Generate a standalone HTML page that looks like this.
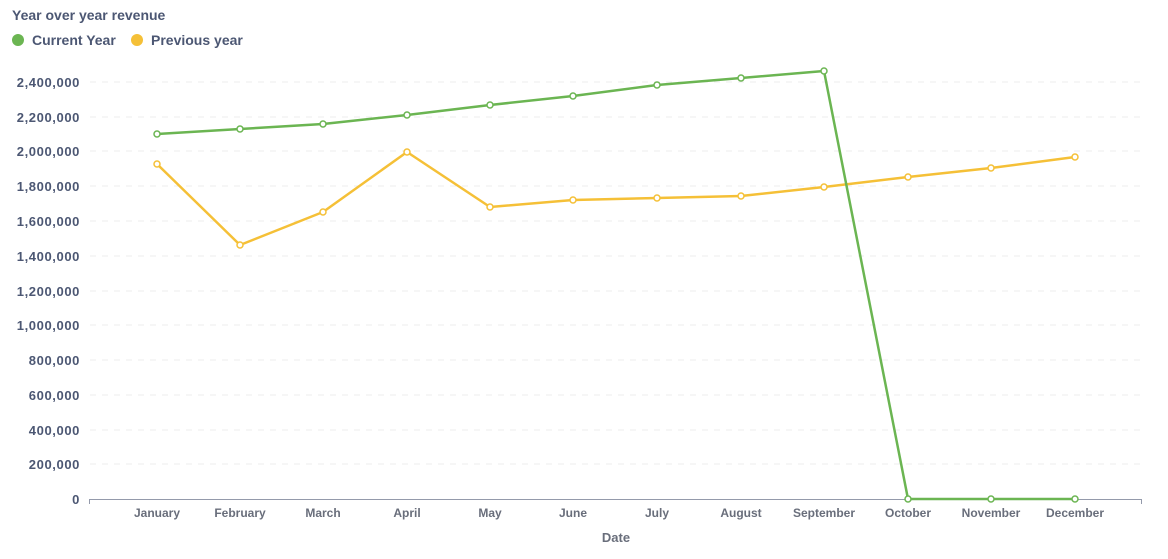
<!DOCTYPE html>
<html><head><meta charset="utf-8"><style>
body{margin:0;background:#fff;width:1168px;height:554px;overflow:hidden;font-family:"Liberation Sans",sans-serif}
</style></head><body>
<svg width="1168" height="554" xmlns="http://www.w3.org/2000/svg" font-family="Liberation Sans, sans-serif" font-weight="bold">
<text x="12" y="20" font-size="14" fill="#4c5773">Year over year revenue</text>
<circle cx="18" cy="40" r="6" fill="#6bb552"/>
<text x="32" y="45" font-size="14" fill="#4c5773">Current Year</text>
<circle cx="137" cy="40" r="6" fill="#f5c037"/>
<text x="151" y="45" font-size="14" fill="#4c5773">Previous year</text>
<g stroke="#ececec" stroke-dasharray="6,6" stroke-width="1">
<line x1="90" x2="1141" y1="82" y2="82"/><line x1="90" x2="1141" y1="117" y2="117"/>
<line x1="90" x2="1141" y1="151" y2="151"/><line x1="90" x2="1141" y1="186" y2="186"/>
<line x1="90" x2="1141" y1="221" y2="221"/><line x1="90" x2="1141" y1="256" y2="256"/>
<line x1="90" x2="1141" y1="291" y2="291"/><line x1="90" x2="1141" y1="325" y2="325"/>
<line x1="90" x2="1141" y1="360" y2="360"/><line x1="90" x2="1141" y1="395" y2="395"/>
<line x1="90" x2="1141" y1="430" y2="430"/><line x1="90" x2="1141" y1="464" y2="464"/>
</g>
<g font-size="13" fill="#4c5773" text-anchor="end" letter-spacing="0.6">
<text x="80" y="87">2,400,000</text><text x="80" y="122">2,200,000</text>
<text x="80" y="156">2,000,000</text><text x="80" y="191">1,800,000</text>
<text x="80" y="226">1,600,000</text><text x="80" y="261">1,400,000</text>
<text x="80" y="296">1,200,000</text><text x="80" y="330">1,000,000</text>
<text x="80" y="365">800,000</text><text x="80" y="400">600,000</text>
<text x="80" y="435">400,000</text><text x="80" y="469">200,000</text>
<text x="80" y="504">0</text>
</g>
<path d="M89.5 504V499.5H1141.5V504" stroke="#949aab" stroke-width="1" fill="none"/>
<g font-size="12" fill="#696e7b" text-anchor="middle">
<text x="157" y="517">January</text><text x="240" y="517">February</text>
<text x="323" y="517">March</text><text x="407" y="517">April</text>
<text x="490" y="517">May</text><text x="573" y="517">June</text>
<text x="657" y="517">July</text><text x="741" y="517">August</text>
<text x="824" y="517">September</text><text x="908" y="517">October</text>
<text x="991" y="517">November</text><text x="1075" y="517">December</text>
</g>
<text x="616" y="542" font-size="13" fill="#696e7b" text-anchor="middle">Date</text>
<polyline fill="none" stroke="#f5c037" stroke-width="2.5" stroke-linejoin="round" points="157,164 240,245 323,212 407,152 490,207 573,200 657,198 741,196 824,187 908,177 991,168 1075,157"/>
<polyline fill="none" stroke="#6bb552" stroke-width="2.5" stroke-linejoin="round" points="157,134 240,129 323,124 407,115 490,105 573,96 657,85 741,78 824,71 908,499 991,499 1075,499"/>
<g fill="#fff" stroke="#f5c037" stroke-width="1.5">
<circle cx="157" cy="164" r="3"/><circle cx="240" cy="245" r="3"/><circle cx="323" cy="212" r="3"/><circle cx="407" cy="152" r="3"/><circle cx="490" cy="207" r="3"/><circle cx="573" cy="200" r="3"/><circle cx="657" cy="198" r="3"/><circle cx="741" cy="196" r="3"/><circle cx="824" cy="187" r="3"/><circle cx="908" cy="177" r="3"/><circle cx="991" cy="168" r="3"/><circle cx="1075" cy="157" r="3"/>
</g>
<g fill="#fff" stroke="#6bb552" stroke-width="1.5">
<circle cx="157" cy="134" r="3"/><circle cx="240" cy="129" r="3"/><circle cx="323" cy="124" r="3"/><circle cx="407" cy="115" r="3"/><circle cx="490" cy="105" r="3"/><circle cx="573" cy="96" r="3"/><circle cx="657" cy="85" r="3"/><circle cx="741" cy="78" r="3"/><circle cx="824" cy="71" r="3"/><circle cx="908" cy="499" r="3"/><circle cx="991" cy="499" r="3"/><circle cx="1075" cy="499" r="3"/>
</g>
</svg>
</body></html>
